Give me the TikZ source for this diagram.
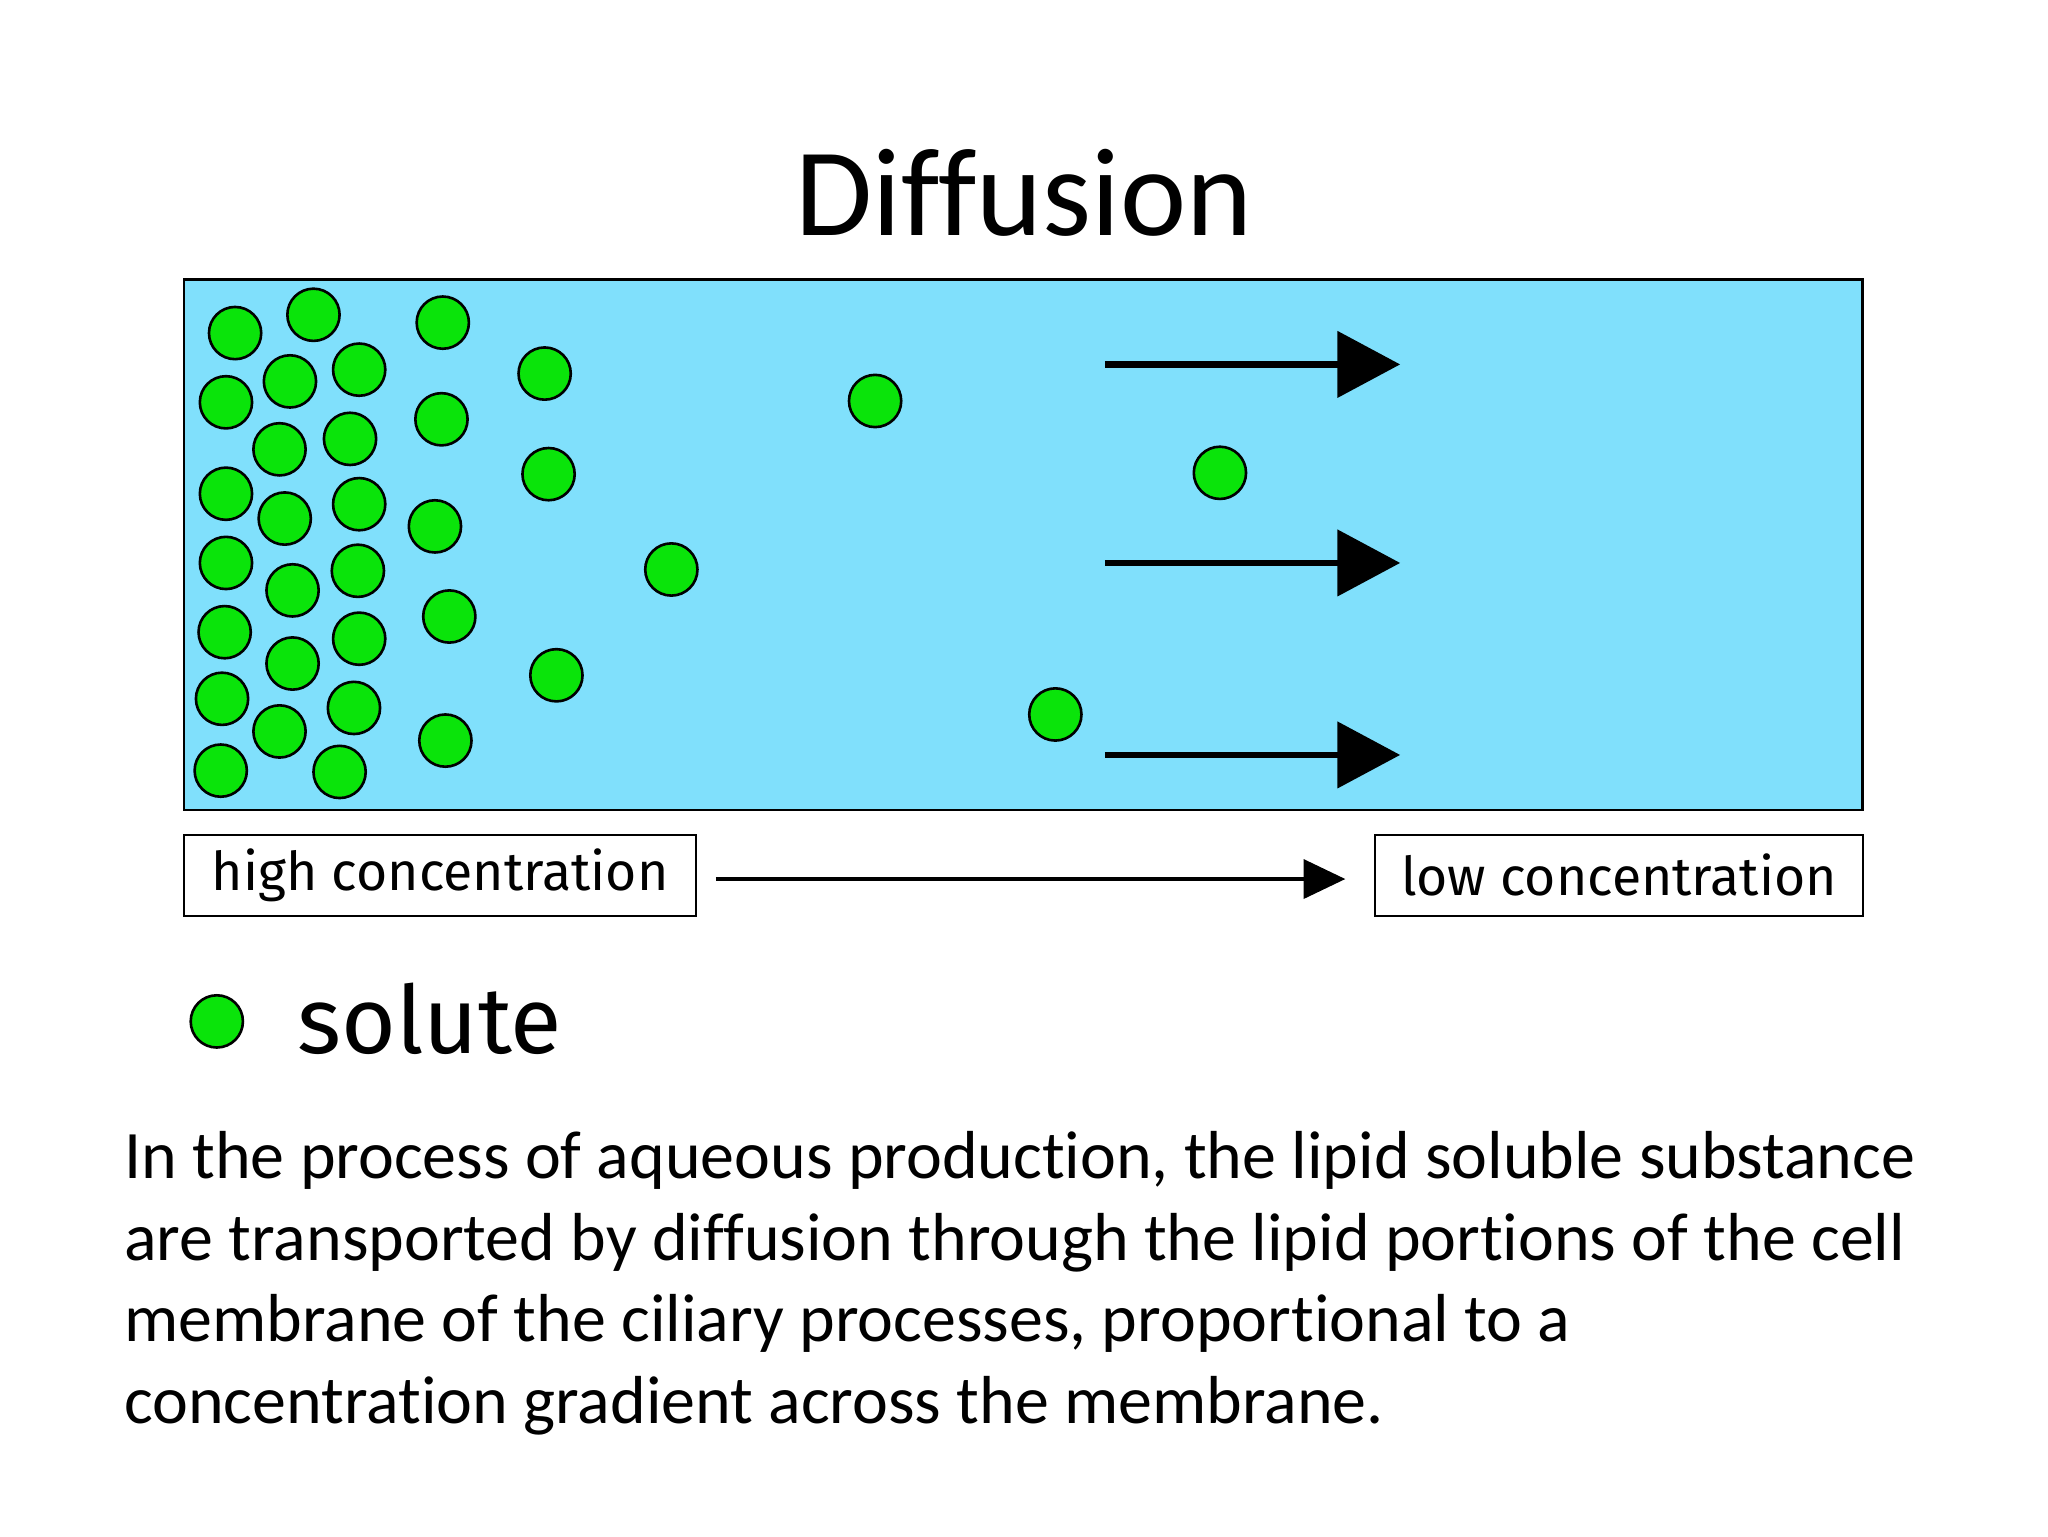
\documentclass[tikz,border=0pt]{standalone}
\usepackage{fontspec}
\setmainfont{Carlito}[Ligatures=NoCommon]
\newfontfamily\lab{Fira Sans}
\usetikzlibrary{arrows.meta}
\definecolor{water}{RGB}{128,224,252}
\definecolor{sol}{RGB}{10,228,10}
\begin{document}
\begin{tikzpicture}[x=1pt,y=-1pt,
  mol/.style={circle,draw=black,line width=2pt,fill=sol,minimum size=40pt,inner sep=0pt},
  flow/.style={line width=5pt,-{Triangle[length=48pt,width=50pt]}},
  lbox/.style={draw=black,line width=1.5pt,minimum height=62pt,inner sep=0pt,font=\lab\fontsize{41}{46}\selectfont}]
\useasboundingbox[fill=white] (0,0) rectangle (1568,1176);
\node[font=\fontsize{96}{110}\selectfont] (title) at (784,148) {Diffusion};
\draw[fill=water,line width=2pt] (141,214) rectangle (1426,620);
\foreach \x/\y [count=\i] in {180/255,240/241,339/247,222/292,275/283,173/308,417/286,338/321,670/307,214/344,268/336,173/378,420/363,275/386,218/397,333/403,934/362,173/431,514/436,274/437,224/452,344/472,172/484,275/489,224/508,426/517,170/535,271/542,214/560,808/547,341/567,169/590,260/591}
  \node[mol] (m\i) at (\x,\y) {};
\foreach \y/\n in {279/a,431/b,578/c}{
  \coordinate (s\n) at (846,\y); \coordinate (e\n) at (1072,\y);
  \draw[flow] (s\n) -- (e\n);}
\node[lbox,minimum width=392pt] (high) at (337,670) {high concentration};
\node[lbox,minimum width=373pt] (low) at (1239.5,670) {low concentration};
\coordinate (hs) at (548,673); \coordinate (he) at (1030,673);
\draw[line width=2.5pt,-{Triangle[length=32pt,width=30pt]}] (hs) -- (he);
\node[mol] (leg) at (166,782) {};
\node[anchor=west,font=\lab\fontsize{72}{74}\selectfont] (soltxt) at (224,780) {solute};
\node[anchor=north west,align=left,font=\fontsize{52}{62.5}\selectfont,inner sep=0pt] (body) at (95,866)
{In the process of aqueous production, the lipid soluble substance\\
are transported by diffusion through the lipid portions of the cell\\
membrane of the ciliary processes, proportional to a\\
concentration gradient across the membrane.};
\end{tikzpicture}
\end{document}
